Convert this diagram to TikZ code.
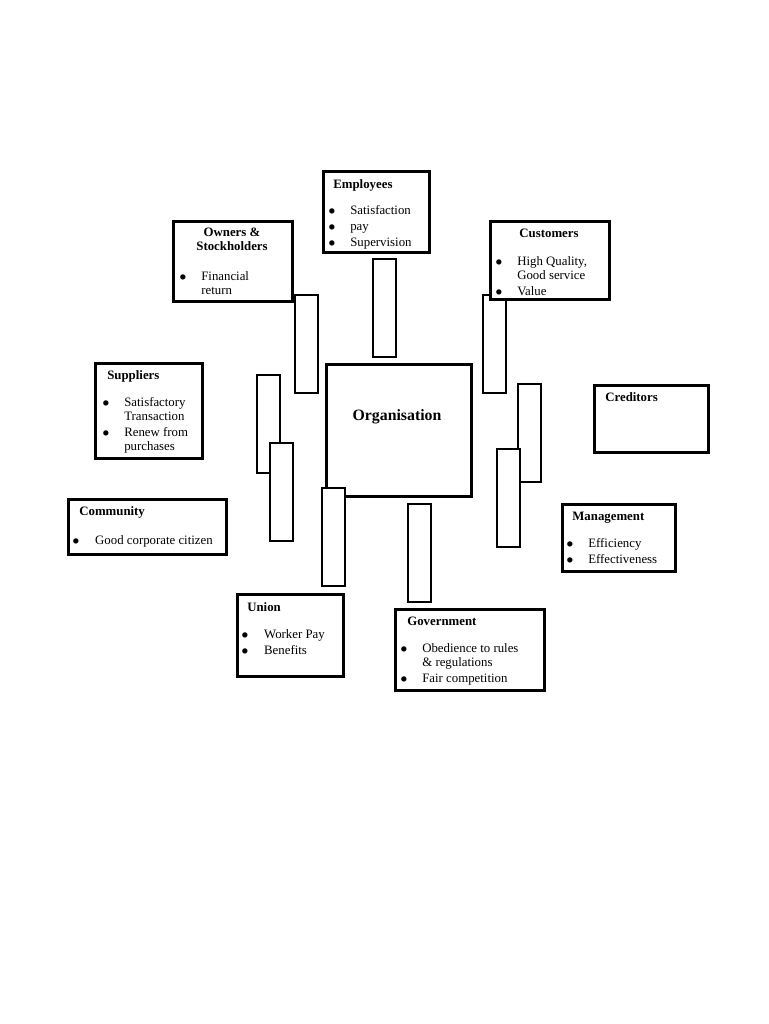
\documentclass[tikz,border=0pt]{standalone}
\usepackage{fontspec}
\setmainfont{Liberation Serif}
\usepackage{tikz}
\usetikzlibrary{positioning}

\begin{document}
\begin{tikzpicture}[
			x=0.02cm, y=-0.02cm,
			party/.style={rectangle, draw, line width=1.6pt, fill=white, anchor=north west, inner sep=0pt},
			link/.style={rectangle, draw, line width=1.2pt, fill=white, anchor=north west, inner sep=0pt, minimum width=0.46cm, minimum height=1.96cm},
			title/.style={font=\fontsize{7.3}{8}\selectfont\bfseries, inner sep=0pt, anchor=base west},
			items/.style={font=\fontsize{7.3}{8}\selectfont, inner sep=0pt, anchor=base west}
		]
		\useasboundingbox (0,0) rectangle (768,1024);
		
		% Links round the organisation
		\node[link] (lnk-top) at (372,258) {};
		\node[link] (lnk-ul) at (294,294) {};
		\node[link] (lnk-lo) at (256,374) {};
		\node[link] (lnk-li) at (269,442) {};
		\node[link] (lnk-ur) at (482,294) {};
		\node[link] (lnk-ro) at (517,383) {};
		\node[link] (lnk-ri) at (496,448) {};
		\node[link] (lnk-bc) at (407,503) {};
		
		% Organisation
		\node[party, minimum width=2.90cm, minimum height=2.64cm] (org) at (325,363) {};
		\node[font=\fontsize{9}{10}\selectfont\bfseries, inner sep=0pt] (org-t) at (397,417) {Organisation};
		\node[link] (lnk-bl) at (321,487) {};
		
		% Employees
		\node[party, minimum width=2.12cm, minimum height=1.62cm] (emp) at (322,170) {};
		\node[title] (emp-t) at (333,188) {Employees};
		\node[items] (emp-l) at (328,214) {\begin{tabular}[t]{@{}p{12.5pt}@{}l@{}}$\bullet$ & Satisfaction\\[1.2pt] $\bullet$ & pay\\[1.2pt] $\bullet$ & Supervision\end{tabular}};
		
		% Owners
		\node[party, minimum width=2.38cm, minimum height=1.60cm] (own) at (172,220) {};
		\node[title, anchor=north, align=center] (own-t) at (232,228) {Owners \&\\Stockholders};
		\node[items] (own-l) at (179,280) {\begin{tabular}[t]{@{}p{12.5pt}@{}l@{}}$\bullet$ & Financial\\ & return\end{tabular}};
		
		% Customers
		\node[party, minimum width=2.38cm, minimum height=1.56cm] (cus) at (489,220) {};
		\node[title, anchor=base] (cus-t) at (549,237) {Customers};
		\node[items] (cus-l) at (495,265) {\begin{tabular}[t]{@{}p{12.5pt}@{}l@{}}$\bullet$ & High Quality,\\ & Good service\\[1.2pt] $\bullet$ & Value\end{tabular}};
		
		% Suppliers
		\node[party, minimum width=2.14cm, minimum height=1.90cm] (sup) at (94,362) {};
		\node[title] (sup-t) at (107,379) {Suppliers};
		\node[items] (sup-l) at (102,406) {\begin{tabular}[t]{@{}p{12.5pt}@{}l@{}}$\bullet$ & Satisfactory\\ & Transaction\\[1.2pt] $\bullet$ & Renew from\\ & purchases\end{tabular}};
		
		% Community
		\node[party, minimum width=3.16cm, minimum height=1.10cm] (com) at (67,498) {};
		\node[title] (com-t) at (79,515) {Community};
		\node[items] (com-l) at (72,544) {\begin{tabular}[t]{@{}p{13pt}@{}l@{}}$\bullet$ & Good corporate citizen\end{tabular}};
		
		% Creditors
		\node[party, minimum width=2.28cm, minimum height=1.34cm] (cre) at (593,384) {};
		\node[title] (cre-t) at (605,401) {Creditors};
		
		% Management
		\node[party, minimum width=2.26cm, minimum height=1.34cm] (man) at (561,503) {};
		\node[title] (man-t) at (572,520) {Management};
		\node[items] (man-l) at (566,547) {\begin{tabular}[t]{@{}p{12.5pt}@{}l@{}}$\bullet$ & Efficiency\\[1.2pt] $\bullet$ & Effectiveness\end{tabular}};
		
		% Union
		\node[party, minimum width=2.12cm, minimum height=1.64cm] (uni) at (236,593) {};
		\node[title] (uni-t) at (247,611) {Union};
		\node[items] (uni-l) at (241,638) {\begin{tabular}[t]{@{}p{13pt}@{}l@{}}$\bullet$ & Worker Pay\\[1.2pt] $\bullet$ & Benefits\end{tabular}};
		
		% Government
		\node[party, minimum width=2.98cm, minimum height=1.62cm] (gov) at (394,608) {};
		\node[title] (gov-t) at (407,625) {Government};
		\node[items] (gov-l) at (400,652) {\begin{tabular}[t]{@{}p{12.5pt}@{}l@{}}$\bullet$ & Obedience to rules\\ & \& regulations\\[1.2pt] $\bullet$ & Fair competition\end{tabular}};
		\end{tikzpicture}
\end{document}
